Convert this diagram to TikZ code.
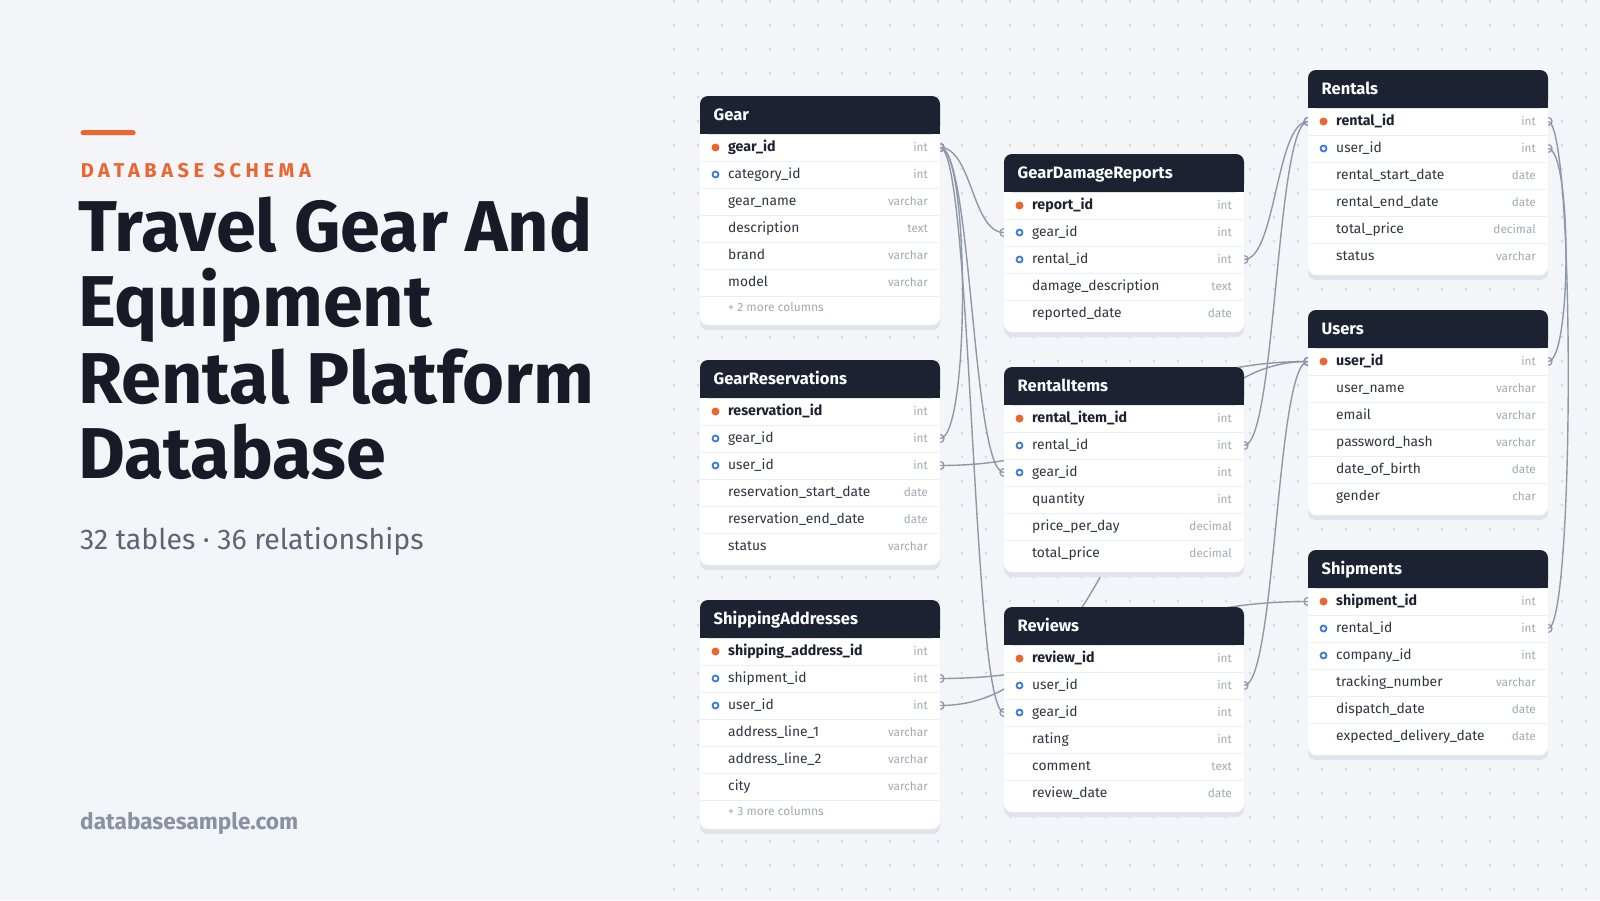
\documentclass[tikz,border=0pt]{standalone}
\usepackage{fontspec}
\setmainfont{Fira Sans}
\definecolor{bgc}{HTML}{F3F5F9}
\definecolor{dotc}{HTML}{D3D8E0}
\definecolor{titlec}{HTML}{161B27}
\definecolor{orng}{HTML}{EC6530}
\definecolor{subc}{HTML}{5D6575}
\definecolor{footc}{HTML}{8A92A2}
\definecolor{hdrc}{HTML}{1C2232}
\definecolor{namec}{HTML}{2E3442}
\definecolor{namepk}{HTML}{1C2232}
\definecolor{typec}{HTML}{A3A9B4}
\definecolor{bluec}{HTML}{3E7BD6}
\definecolor{sepc}{HTML}{ECEEF2}
\definecolor{tshadow}{HTML}{DFE3EA}
\definecolor{connc}{HTML}{8F98A9}
\pgfdeclarelayer{dots}
\pgfdeclarelayer{links}
\pgfsetlayers{dots,links,main}
\tikzset{
  hdrtext/.style={anchor=mid west, text=white, inner sep=0, font=\fontsize{16.5}{19}\selectfont\bfseries},
  rowbox/.style={minimum width=240pt, minimum height=27pt, inner sep=0, outer sep=0},
  nm-pk/.style={anchor=mid west, inner sep=0, text=namepk, font=\fontsize{14.2}{17}\selectfont\bfseries},
  nm-fk/.style={anchor=mid west, inner sep=0, text=namec, font=\fontsize{13.8}{16}\selectfont},
  nm-no/.style={nm-fk},
  ty/.style={anchor=mid east, inner sep=0, text=typec, font=\fontsize{11.8}{14}\selectfont},
  moretext/.style={anchor=mid west, inner sep=0, text=typec, font=\fontsize{12}{14}\selectfont},
  mk-pk/.style={circle, fill=orng, minimum size=8pt, inner sep=0},
  mk-fk/.style={circle, draw=bluec, line width=1.8pt, minimum size=6pt, inner sep=0},
  mk-no/.style={inner sep=0, minimum size=0pt},
  conn/.style={draw=connc, line width=1.4pt},
  port/.style={draw=connc, line width=1.3pt},
  septline/.style={draw=sepc, line width=0.9pt},
}
\newcommand\dbtable[6]{%
  \fill[tshadow, rounded corners=8pt] (#2,#3+5) rectangle ++(240,#5);
  \fill[white, rounded corners=8pt] (#2,#3) rectangle ++(240,#5);
  \fill[hdrc, rounded corners=8pt] (#2,#3) rectangle ++(240,38);
  \fill[hdrc] (#2,#3+20) rectangle ++(240,18);
  \node[hdrtext] (#1) at (#2+13.5,#3+21.5) {#4};
  \foreach \k/\n/\t [count=\i] in {#6} {%
    \pgfmathsetmacro\ry{#3+38+27*(\i-1)}%
    \node[rowbox] (#1-\i) at (#2+120,\ry+13.5) {};
    \ifnum\i>1 \draw[septline] (#2+1,\ry) -- ++(238,0);\fi
    \node[mk-\k] at (#2+15.5,\ry+13.5) {};
    \node[nm-\k] at (#2+28,\ry+15) {\n};
    \node[ty] at (#2+228,\ry+15) {\t};
  }%
}
\newcommand\lnk[4]{%
  \draw[conn] (#1) .. controls +(#2,0) and +(#3,0) .. (#4);
  \draw[port] (#1) circle (4pt);
  \draw[port] (#4) circle (4pt);
}
\begin{document}
\begin{tikzpicture}[x=1pt,y=-1pt]
\useasboundingbox (0,0) rectangle (1600,900);
\begin{pgfonlayer}{dots}
  \fill[bgc] (0,0) rectangle (1600,900);
  \foreach \i in {0,...,38} {\foreach \j in {0,...,37} {\fill[dotc] (674+24*\i,1+24*\j) circle (1.3pt);}}
\end{pgfonlayer}

% left text
\fill[orng, rounded corners=2.5pt] (80.6,130.2) rectangle (135.7,135.2);
\node[anchor=base west, inner sep=0, text=orng, font=\fontsize{20}{24}\selectfont\bfseries\addfontfeatures{LetterSpace=23}] (kicker) at (80.6,177.6) {DATABASE SCHEMA};
\node[anchor=base west, inner sep=0, text=titlec, font=\fontsize{72}{76}\selectfont\bfseries] (t1) at (78,251) {Travel Gear And};
\node[anchor=base west, inner sep=0, text=titlec, font=\fontsize{72}{76}\selectfont\bfseries] (t2) at (78,326.5) {Equipment};
\node[anchor=base west, inner sep=0, text=titlec, font=\fontsize{72}{76}\selectfont\bfseries] (t3) at (78,403) {Rental Platform};
\node[anchor=base west, inner sep=0, text=titlec, font=\fontsize{72}{76}\selectfont\bfseries] (t4) at (78,478.6) {Database};
\node[anchor=base west, inner sep=0, text=subc, font=\fontsize{28.5}{32}\selectfont] (sub) at (80,549) {32 tables · 36 relationships};
\node[anchor=base west, inner sep=0, text=footc, font=\fontsize{22.6}{26}\selectfont\bfseries] (foot) at (80,829.6) {databasesample.com};

% tables
\dbtable{gear}{700}{96}{Gear}{229}{pk/gear\_id/int, fk/category\_id/int, no/gear\_name/varchar, no/description/text, no/brand/varchar, no/model/varchar}
\draw[septline] (701,296) -- ++(238,0);
\node[moretext] (gearmore) at (728,309) {+ 2 more columns};

\dbtable{gr}{700}{360}{GearReservations}{205}{pk/reservation\_id/int, fk/gear\_id/int, fk/user\_id/int, no/reservation\_start\_date/date, no/reservation\_end\_date/date, no/status/varchar}

\dbtable{sa}{700}{600}{ShippingAddresses}{229}{pk/shipping\_address\_id/int, fk/shipment\_id/int, fk/user\_id/int, no/address\_line\_1/varchar, no/address\_line\_2/varchar, no/city/varchar}
\draw[septline] (701,800) -- ++(238,0);
\node[moretext] (samore) at (728,813) {+ 3 more columns};

\dbtable{gdr}{1004}{154}{GearDamageReports}{178}{pk/report\_id/int, fk/gear\_id/int, fk/rental\_id/int, no/damage\_description/text, no/reported\_date/date}

\dbtable{ri}{1004}{367}{RentalItems}{205}{pk/rental\_item\_id/int, fk/rental\_id/int, fk/gear\_id/int, no/quantity/int, no/price\_per\_day/decimal, no/total\_price/decimal}

\dbtable{rev}{1004}{607}{Reviews}{205}{pk/review\_id/int, fk/user\_id/int, fk/gear\_id/int, no/rating/int, no/comment/text, no/review\_date/date}

\dbtable{rent}{1308}{70}{Rentals}{205}{pk/rental\_id/int, fk/user\_id/int, no/rental\_start\_date/date, no/rental\_end\_date/date, no/total\_price/decimal, no/status/varchar}

\dbtable{users}{1308}{310}{Users}{205}{pk/user\_id/int, no/user\_name/varchar, no/email/varchar, no/password\_hash/varchar, no/date\_of\_birth/date, no/gender/char}

\dbtable{ship}{1308}{550}{Shipments}{205}{pk/shipment\_id/int, fk/rental\_id/int, fk/company\_id/int, no/tracking\_number/varchar, no/dispatch\_date/date, no/expected\_delivery\_date/date}

% connectors
\begin{pgfonlayer}{links}
  \lnk{gear-1.east}{32}{-32}{gdr-2.west}
  \lnk{gear-1.east}{30}{30}{gr-2.east}
  \lnk{gear-1.east}{32}{-32}{ri-3.west}
  \lnk{gear-1.east}{32}{-32}{rev-3.west}
  \lnk{gdr-3.east}{32}{-32}{rent-1.west}
  \lnk{ri-2.east}{32}{-32}{rent-1.west}
  \lnk{rent-2.east}{24}{24}{users-1.east}
  \lnk{rent-1.east}{27}{27}{ship-2.east}
  \lnk{gr-3.east}{183.5}{-183.5}{users-1.west}
  \lnk{sa-2.east}{183.5}{-183.5}{ship-1.west}
  \lnk{sa-3.east}{183.5}{-183.5}{users-1.west}
  \lnk{rev-2.east}{32}{-32}{users-1.west}
\end{pgfonlayer}
\end{tikzpicture}
\end{document}
